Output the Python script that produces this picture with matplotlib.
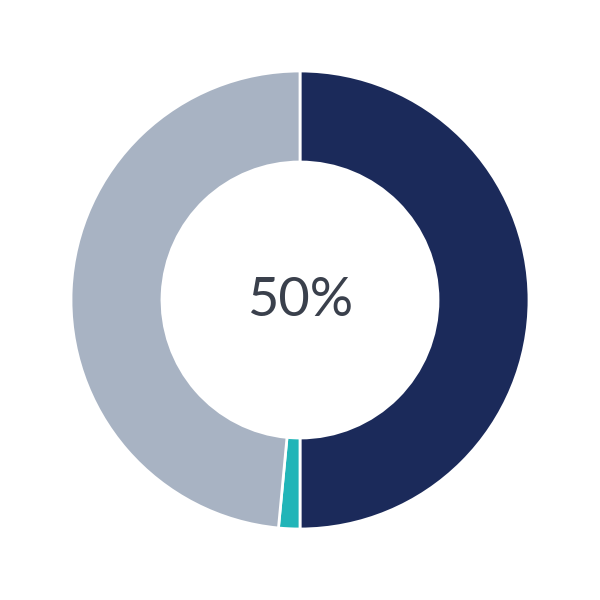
import matplotlib
matplotlib.use("Agg")
import matplotlib.pyplot as plt

labels = ["Navy", "Teal", "Gray"]
values = [50.0, 1.5, 48.5]
colors = ["#1b2a5a", "#21b5b8", "#a8b3c3"]
center_text = "50%"

fig = plt.figure(figsize=(6, 6), dpi=100)
ax = fig.add_axes([0, 0, 1, 1])
R = 229 / 300
ax.pie(values, colors=colors, startangle=90, counterclock=False, radius=R,
       wedgeprops=dict(width=R - 138 / 300, edgecolor="white", linewidth=2))
ax.text(0, 0, center_text, ha="center", va="center", fontsize=39,
        family=["Lato", "DejaVu Sans"], color="#3a404c")
ax.set_xlim(-1, 1)
ax.set_ylim(-1, 1)
ax.set_aspect("equal")
ax.axis("off")
fig.savefig("out.png", dpi=100)
